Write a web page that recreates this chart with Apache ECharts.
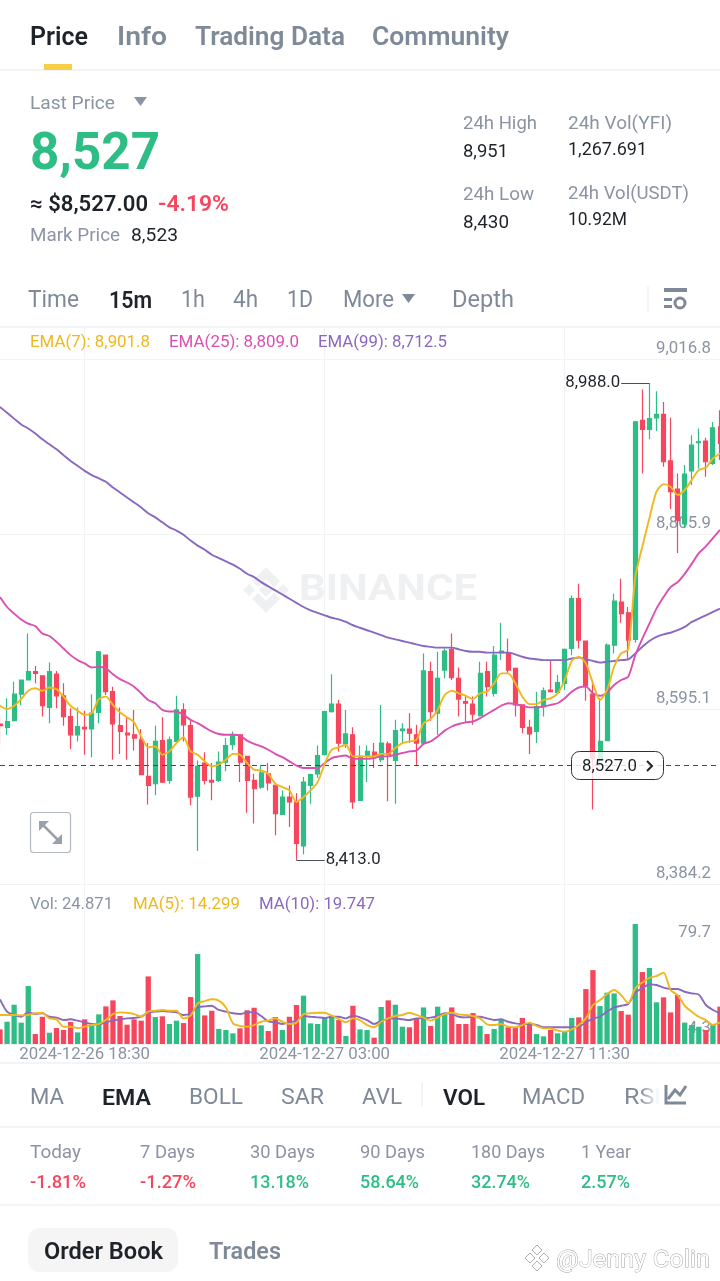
<!DOCTYPE html>
<html><head><meta charset="utf-8">
<style>html,body{margin:0;padding:0;background:#fff}#c{width:720px;height:1281px}</style>
<script src="https://cdn.jsdelivr.net/npm/echarts@6/dist/echarts.min.js"></script>
</head><body><div id="c"></div>
<script>
// [open, close, low, high]
const candles = [
[8577,8575,8552,8586],[8573,8580,8564,8608],[8581,8613,8580,8628],[8613,8630,8600,8630],[8630,8640,8630,8686],
[8640,8638,8626,8647],[8635,8599,8586,8635],[8597,8640,8578,8651],[8637,8611,8596,8641],[8611,8586,8575,8626],
[8586,8564,8547,8596],[8564,8574,8556,8597],[8573,8571,8540,8593],[8571,8590,8537,8613],[8591,8664,8578,8665],
[8660,8616,8612,8660],[8616,8577,8534,8622],[8575,8568,8541,8597],[8566,8564,8534,8585],[8564,8560,8545,8594],
[8558,8516,8516,8571],[8514,8503,8480,8554],[8505,8556,8491,8575],[8557,8507,8506,8585],[8509,8558,8505,8562],
[8556,8594,8556,8611],[8594,8576,8556,8602],[8575,8489,8479,8582],[8490,8526,8424,8533],[8530,8509,8504,8543],
[8509,8507,8485,8530],[8509,8531,8507,8544],[8531,8551,8520,8560],[8552,8563,8546,8568],[8564,8531,8507,8564],
[8538,8509,8470,8538],[8509,8499,8457,8517],[8501,8518,8499,8528],[8517,8506,8497,8530],[8503,8469,8443,8505],
[8468,8489,8468,8497],[8489,8483,8453,8503],[8483,8433,8413,8494],[8430,8507,8420,8513],[8503,8516,8481,8517],
[8517,8539,8512,8551],[8540,8592,8540,8593],[8592,8601,8591,8637],[8601,8554,8544,8606],[8553,8565,8548,8594],
[8564,8483,8475,8573],[8485,8538,8485,8551],[8538,8544,8507,8551],[8543,8538,8524,8554],[8534,8554,8531,8600],
[8553,8540,8484,8556],[8533,8569,8481,8582],[8569,8571,8554,8578],[8571,8566,8554,8590],[8564,8554,8527,8576],
[8554,8641,8554,8662],[8640,8592,8581,8652],[8590,8632,8564,8664],[8642,8665,8632,8668],[8667,8633,8630,8686],
[8632,8607,8586,8645],[8604,8602,8579,8610],[8601,8589,8576,8610],[8587,8638,8586,8652],[8640,8622,8610,8652],
[8614,8660,8610,8671],[8663,8665,8654,8699],[8662,8642,8638,8680],[8644,8600,8586,8644],[8600,8573,8566,8600],
[8573,8565,8541,8582],[8568,8598,8554,8616],[8598,8617,8586,8621],[8618,8616,8616,8653],[8615,8627,8614,8636],
[8626,8667,8618,8668],[8668,8728,8660,8732],[8728,8678,8668,8746],[8677,8623,8605,8677],[8613,8535,8474,8629],
[8534,8556,8525,8608],[8557,8672,8557,8674],[8672,8725,8662,8734],[8724,8710,8699,8752],[8711,8678,8656,8718],
[8679,8941,8675,8942],[8943,8932,8879,8980],[8932,8945,8920,8988],[8946,8950,8930,8978],[8950,8893,8887,8965],
[8894,8857,8836,8946],[8860,8822,8783,8879],[8818,8878,8813,8889],[8882,8913,8865,8925],[8916,8917,8885,8933],
[8918,8893,8875,8922],[8891,8934,8889,8941],[8935,8915,8895,8955]
];
const ema7 = [8599,8595,8599,8607,8617,8620,8617,8621,8619,8610,8599,8593,8588,8590,8607,8610,8600,8591,8585,8579,
8562,8549,8550,8540,8544,8554,8561,8544,8540,8532,8526,8528,8534,8541,8540,
8530,8522,8521,8517,8505,8501,8497,8483,8489,8497,8507,8529,8546,8549,8552,8538,8538,8538,8538,8541,8541,8548,8554,8556,8558,8578,8583,8594,8612,8617,8614,8611,8607,
8614,8616,8626,8638,8638,8626,8610,8601,8601,8606,8608,8614,8630,8653,8658,8650,8626,8606,8618,8646,8662,8667,
8754,8791,8825,8857,8866,8863,8853,8859,8871,8883,8886,8897,8903];
const ema25 = [8730,8718,8710,8703,8698,8695,8686,8683,8676,8668,8660,8654,8650,8645,8646,8644,8637,8631,8627,8622,
8614,8606,8602,8594,8592,8592,8588,8582,8578,8573,8568,8565,8564,8564,8563,
8557,8553,8550,8546,8541,8537,8532,8527,8524,8524,8524,8530,8536,8538,8539,8535,8535,8535,8536,8538,8538,8540,8542,8544,8545,8553,8556,8562,8569,8574,8577,8579,8580,
8584,8589,8594,8599,8602,8601,8599,8597,8597,8598,8600,8602,8608,8616,8621,8622,8614,8611,8615,8624,8630,8634,
8660,8680,8698,8716,8730,8742,8748,8758,8770,8783,8791,8801,8811];
const ema99 = [8959,8952,8945,8938,8933,8927,8920,8914,8908,8901,8894,8888,8882,8877,8873,8869,8862,8856,8850,8844,
8838,8831,8826,8820,8814,8810,8805,8798,8792,8787,8781,8777,8773,8769,8764,
8758,8754,8748,8743,8738,8733,8728,8723,8718,8714,8711,8708,8705,8703,8700,8696,8693,8690,8687,8684,8681,8679,8677,8675,8673,8671,8670,8669,8669,8669,8667,8665,8664,
8664,8663,8663,8663,8663,8661,8658,8656,8655,8654,8654,8654,8654,8656,8657,8655,8653,8651,8652,8653,8654,8655,
8662,8670,8677,8682,8685,8687,8690,8694,8700,8704,8708,8712,8716];
const volumes = [9.7,14.8,26.1,14.2,38.5,6.6,18.1,7.5,10.6,9.3,14.6,7.7,16.4,12.0,19.7,25,29,18.6,12.8,16.4,
15.5,44.9,17.9,18.4,13.3,15.5,13.9,31.2,59.8,19,22.1,10,9.3,7.1,10.4,
22.4,24.1,12.4,8.6,17.9,9.3,18.1,25.9,32.1,13.7,13.3,17.9,18.6,15.9,5.3,25.4,9.7,9.3,4.2,24.6,29,26.1,11.5,11.1,16.6,24.3,12,24.8,20.4,24.3,13.3,13.3,20.6,
12,6.6,10,15.9,11.1,11.1,17.3,13.3,6.6,5.1,9.3,7.1,8.6,17.3,17.7,36.5,49.1,25.2,34.1,33.6,21.9,19.5,
79.7,47.8,50.5,27.7,31,21,32.5,14.2,12.6,11.5,9.3,12.6,24.8];
const volMa5 = [19.3,19.3,19.3,19.0,19.3,20.4,20.8,17.0,16.4,11.5,11.5,10.6,11.5,12.6,13.3,15.9,19.9,21.0,20.8,19.9,
18.1,21.5,22.1,22.6,22.1,22.1,17.0,18.8,27.0,28.5,29.7,28.8,24.3,13.7,12.0,
11.5,12.6,14.8,15.5,17.0,14.8,13.3,14.2,19.9,20.4,20.8,20.8,18.8,16.6,14.4,17.0,15.9,12.6,11.1,14.8,17.0,18.6,19.3,20.8,19.3,17.5,15.5,17.7,19.9,20.8,19.7,19.3,18.6,
17.0,13.1,12.6,13.3,11.5,11.1,12.6,14.2,12.0,10.4,10.4,8.9,8.2,9.7,12.6,17.0,25.9,29.2,33.2,35.9,32.5,27.0,
37.0,40.9,44.0,45.1,47.4,35.9,32.5,25.4,21.5,18.1,15.9,12.6,14.3];
const volMa10 = [29.7,21.5,19.3,18.1,21.0,19.9,20.4,18.1,17.5,15.9,16.4,15.5,14.4,13.3,13.1,14.4,15.5,16.4,17.0,17.3,
18.1,21.0,21.5,21.9,21.5,21.0,19.3,20.4,24.3,25.0,25.4,22.6,21.5,20.4,19.9,
21.0,21.2,18.6,15.0,14.4,13.3,14.2,15.5,18.6,18.1,17.7,17.3,18.1,18.1,17.0,19.0,17.7,15.9,13.3,15.3,16.6,17.0,16.4,15.9,17.0,17.0,17.5,18.6,20.4,19.9,18.1,17.7,18.1,
18.1,17.0,15.9,16.4,14.8,13.7,13.3,13.3,12.6,11.1,11.1,11.1,11.1,11.1,11.5,14.2,17.0,18.1,21.5,24.3,25.4,26.6,
34.1,37.0,39.6,39.2,37.4,36.5,36.5,34.7,33.6,32.8,25.9,22.6,20.4];
const priceTicks = [8384.2, 8595.1, 8805.9, 9016.8];
const priceMin = 8384.2, priceMax = 9055.4;
const volTop = [79.7], volBottom = [4.3];
const volMax = 106.3;
const labelledBars = [12, 46, 80];
const firstBarTime = Date.UTC(2024, 11, 26, 15, 30);
const highMark = { index: 92, value: 8988, label: '8,988.0' };
const lowMark = { index: 42, value: 8413, label: '8,413.0' };
const lastPrice = 8527;
const periods = ['Today', '7 Days', '30 Days', '90 Days', '180 Days', '1 Year'];
const periodChanges = ['-1.81%', '-1.27%', '13.18%', '58.64%', '32.74%', '2.57%'];

const GREEN = '#2EBD85', RED = '#F6465D', GRAY = '#8A94A3', DARK = '#1E2329', SLATE = '#7F8A99';
const YEL = '#EEB81F', MAG = '#DB4FB3', PUR = '#8A68C0', LINE = '#EEF0F2', GRID = '#F2F3F5', WM = '#EFF0F2';
const pad = n => String(n).padStart(2, '0');
const categories = candles.map((_, i) => {
  const d = new Date(firstBarTime + i * 900000);
  return d.getUTCFullYear() + '-' + pad(d.getUTCMonth() + 1) + '-' + pad(d.getUTCDate()) + ' ' + pad(d.getUTCHours()) + ':' + pad(d.getUTCMinutes());
});
const fmt = v => v.toLocaleString('en-US', { minimumFractionDigits: 1, maximumFractionDigits: 1 });

const ctx = document.createElement('canvas').getContext('2d');
function T(text, x, cy, size, fill, weight, width, extra) {
  const font = 'Roboto, sans-serif';
  ctx.font = weight + ' ' + size + 'px ' + font;
  const sx = width ? width / ctx.measureText(text).width : 1;
  return { type: 'text', x, y: cy + Math.max(2, size * 0.08), scaleX: sx, z: 50, silent: true,
    style: Object.assign({ text, fill, fontSize: size, fontWeight: weight, fontFamily: font, align: 'left', verticalAlign: 'middle' }, extra || {}) };
}
const hline = (y, c, w) => ({ type: 'line', z: 1, silent: true, shape: { x1: 0, y1: y, x2: 720, y2: y }, style: { stroke: c || LINE, lineWidth: w || 1.5 } });
const vline = (x, y1, y2) => ({ type: 'line', z: 50, silent: true, shape: { x1: x, y1, x2: x, y2 }, style: { stroke: LINE, lineWidth: 1.5 } });
const tri = (x, y, w, h, c) => ({ type: 'polygon', z: 50, silent: true, shape: { points: [[x, y], [x + w, y], [x + w / 2, y + h]] }, style: { fill: c } });
const poly = (pts, c, w) => ({ type: 'polyline', z: 60, silent: true, shape: { points: pts }, style: { stroke: c, lineWidth: w || 2, fill: null } });
const diamond = (cx, cy, r, c) => ({ type: 'polygon', z: 0, silent: true, shape: { points: [[cx, cy - r], [cx + r, cy], [cx, cy + r], [cx - r, cy]] }, style: { fill: c } });
const chevron = (cx, ty, d, c) => ({ type: 'polygon', z: 0, silent: true, shape: { points: [[cx, ty], [cx + 14, ty + d * 14], [cx + 8, ty + d * 20], [cx, ty + d * 12], [cx - 8, ty + d * 20], [cx - 14, ty + d * 14]] }, style: { fill: c } });

const periodX = [30, 140, 250, 360, 471, 581];
const periodW = [51, 55, 65, 65, 74, 50];
const changeW = [56, 56, 59, 59, 59, 49];

const g = [
  hline(70), hline(327), hline(1063), hline(1127), hline(1205),
  { type: 'rect', z: 50, silent: true, shape: { x: 44, y: 64, width: 28, height: 6 }, style: { fill: '#F7CE46' } },
  T('Price', 30, 36, 26, DARK, 600, 58), T('Info', 117, 36, 26, SLATE, 600, 50),
  T('Trading Data', 195, 36, 26, SLATE, 600, 150), T('Community', 372, 36, 26, SLATE, 600, 137),
  T('Last Price', 30, 102, 19, GRAY, 400, 85), tri(134, 97, 13, 9, GRAY),
  T('8,527', 30, 152, 52, GREEN, 700, 130),
  T('≈ $8,527.00', 30, 203, 22, DARK, 600, 118), T('-4.19%', 158, 203, 22, RED, 600, 71),
  T('Mark Price', 30, 234, 18, GRAY, 400, 90), T('8,523', 131, 234, 18, DARK, 400, 47),
  T('24h High', 463, 122, 19, GRAY, 400, 74), T('8,951', 463, 150, 19, DARK, 400, 45),
  T('24h Low', 463, 193, 19, GRAY, 400, 71), T('8,430', 463, 221, 19, DARK, 400, 46),
  T('24h Vol(YFI)', 568, 122, 19, GRAY, 400, 104), T('1,267.691', 568, 148, 19, DARK, 400, 79),
  T('24h Vol(USDT)', 568, 192, 19, GRAY, 400, 121), T('10.92M', 568, 218, 19, DARK, 400, 59),
  T('Time', 28, 299, 24, SLATE, 400, 51), T('15m', 109, 300, 24, DARK, 600, 43), T('1h', 181, 299, 24, SLATE, 400, 24),
  T('4h', 233, 299, 24, SLATE, 400, 25), T('1D', 287, 299, 24, SLATE, 400, 26), T('More', 343, 299, 24, SLATE, 400, 51),
  tri(402, 294, 13, 9, SLATE), T('Depth', 452, 299, 24, SLATE, 400, 62), vline(648, 286, 311),
  { type: 'rect', z: 50, silent: true, shape: { x: 664, y: 288, width: 23, height: 4 }, style: { fill: SLATE } },
  { type: 'rect', z: 50, silent: true, shape: { x: 664, y: 298, width: 8, height: 3 }, style: { fill: SLATE } },
  { type: 'rect', z: 50, silent: true, shape: { x: 664, y: 305, width: 8, height: 3 }, style: { fill: SLATE } },
  { type: 'circle', z: 50, silent: true, shape: { cx: 680, cy: 303, r: 5 }, style: { fill: '#fff', stroke: SLATE, lineWidth: 3 } },
  T('EMA(7): 8,901.8', 30, 341, 16, YEL, 400, 120), T('EMA(25): 8,809.0', 169, 341, 16, MAG, 400, 130), T('EMA(99): 8,712.5', 318, 341, 16, PUR, 400, 129),
  T('Vol: 24.871', 30, 903, 16, GRAY, 400, 83), T('MA(5): 14.299', 133, 903, 16, YEL, 400, 107), T('MA(10): 19.747', 259, 903, 16, PUR, 400, 116),
  // watermark
  diamond(266, 590, 7, WM), diamond(249, 590, 6, WM), diamond(283, 590, 6, WM),
  chevron(266, 567, 1, WM), chevron(266, 613, -1, WM),
  Object.assign(T('BINANCE', 299, 588, 36, WM, 700, 178), { z: 0 }),
  // expand button
  { type: 'rect', z: 50, silent: true, shape: { x: 30.5, y: 812.5, width: 40, height: 40, r: 3 }, style: { fill: '#fff', stroke: '#B4BAC2', lineWidth: 1.2 } },
  { type: 'polygon', z: 51, silent: true, shape: { points: [[39, 821], [49, 821], [39, 831]] }, style: { fill: '#98A1AC' } },
  { type: 'polygon', z: 51, silent: true, shape: { points: [[62, 844], [52, 844], [62, 834]] }, style: { fill: '#98A1AC' } },
  poly([[43, 825], [58, 840]], '#98A1AC', 2.5),
  // last price pill
  { type: 'rect', z: 40, silent: true, shape: { x: 571.5, y: 751.5, width: 92, height: 28, r: 8 }, style: { fill: 'rgba(255,255,255,0.82)', stroke: '#2B3139', lineWidth: 1 } },
  T('8,527.0', 582, 765, 16.8, DARK, 400, 55), poly([[647, 761], [652, 766], [647, 771]], DARK, 2),
  // indicator row
  T('MA', 30, 1096, 22, SLATE, 400, 34), T('EMA', 102, 1097, 22, DARK, 600, 49), T('BOLL', 189, 1096, 22, SLATE, 400, 54),
  T('SAR', 281, 1096, 22, SLATE, 400, 43), T('AVL', 362, 1096, 22, SLATE, 400, 40), vline(422, 1082, 1106),
  T('VOL', 443, 1097, 22, DARK, 600, 42), T('MACD', 522, 1096, 22, SLATE, 400, 63), T('RSI', 624, 1096, 22, SLATE, 400, 37),
  { type: 'rect', z: 55, silent: true, shape: { x: 640, y: 1082, width: 24, height: 28 },
    style: { fill: { type: 'linear', x: 0, y: 0, x2: 1, y2: 0, colorStops: [{ offset: 0, color: 'rgba(255,255,255,0)' }, { offset: 0.8, color: '#fff' }] } } },
  poly([[666, 1085], [666, 1103], [686, 1103]], SLATE, 3), poly([[668, 1099], [675, 1090], [680, 1095], [686, 1086]], SLATE, 3),
  ...periods.map((p, i) => T(p, periodX[i], 1151, 18, GRAY, 400, periodW[i])),
  ...periodChanges.map((p, i) => T(p, periodX[i], 1181, 18, p[0] === '-' ? RED : GREEN, 500, changeW[i])),
  { type: 'rect', z: 2, silent: true, shape: { x: 28, y: 1228, width: 150, height: 44, r: 12 }, style: { fill: '#F5F5F5' } },
  T('Order Book', 44, 1251, 23, DARK, 600, 119), T('Trades', 209, 1251, 23, SLATE, 600, 72),
  T('@Jenny Colin', 556, 1259, 23, '#fff', 400, 154, { stroke: '#9A9A9A', lineWidth: 0.8 }),
  ...[[537, 1250, 5], [530, 1258, 5], [544, 1258, 5], [537, 1266, 5]].map(d => ({ type: 'polygon', z: 50, silent: true, shape: { points: [[d[0], d[1] - d[2]], [d[0] + d[2], d[1]], [d[0], d[1] + d[2]], [d[0] - d[2], d[1]]] }, style: { fill: '#fff', stroke: '#9A9A9A', lineWidth: 0.8 } }))
];

const lineSeries = (name, data, color, xi, yi, w) => ({ name, type: 'line', data, xAxisIndex: xi, yAxisIndex: yi, showSymbol: false, smooth: 0.25, z: 5, silent: true,
  lineStyle: { color, width: w || 1.9 } });
const peak = (m, dir) => [{ coord: [m.index, m.value], symbol: 'none', lineStyle: { color: '#4A4F57', width: 1, type: 'solid' },
  label: { show: true, formatter: m.label, position: 'end', color: DARK, fontSize: 16.8, fontFamily: 'Roboto', distance: 1 } }, { coord: [m.index + dir * 4, m.value], symbol: 'none' }];

const option = {
  animation: false,
  textStyle: { fontFamily: 'Roboto' },
  graphic: { elements: g },
  grid: [
    { left: 0, top: 327, width: 720, height: 557 },
    { left: 0, top: 884, width: 720, height: 160 }
  ],
  xAxis: [0, 1].map(gi => ({
    type: 'category', gridIndex: gi, data: categories, boundaryGap: false,
    axisLine: { show: gi === 1, lineStyle: { color: LINE, width: 1 } },
    axisTick: { show: false, customValues: labelledBars },
    splitLine: { show: true, lineStyle: { color: GRID, width: 1.2 } },
    axisLabel: gi === 1 ? { show: true, customValues: labelledBars, color: GRAY, fontSize: 16.8, fontFamily: 'Roboto', margin: 2, hideOverlap: false } : { show: false }
  })),
  yAxis: [
    { type: 'value', gridIndex: 0, position: 'right', min: priceMin, max: priceMax,
      axisLine: { show: false }, axisTick: { show: false, customValues: priceTicks },
      splitLine: { show: true, lineStyle: { color: GRID, width: 1.2 } },
      axisLabel: { inside: true, customValues: priceTicks, formatter: fmt, color: GRAY, fontSize: 16.8, fontFamily: 'Roboto', margin: 9, verticalAlign: 'bottom', lineHeight: 20 } },
    { type: 'value', gridIndex: 1, position: 'right', min: 0, max: volMax,
      axisLine: { show: false }, axisTick: { show: false }, splitLine: { show: false },
      axisLabel: { inside: true, customValues: volTop, formatter: v => v.toFixed(1), color: GRAY, fontSize: 16.8, fontFamily: 'Roboto', margin: 9, verticalAlign: 'top' } },
    { type: 'value', gridIndex: 1, position: 'right', min: 0, max: volMax,
      axisLine: { show: false }, axisTick: { show: false }, splitLine: { show: false },
      axisLabel: { inside: true, customValues: volBottom, formatter: v => v.toFixed(1), color: GRAY, fontSize: 16.8, fontFamily: 'Roboto', margin: 9, verticalAlign: 'bottom' } }
  ],
  series: [
    { name: 'Price', type: 'candlestick', data: candles, xAxisIndex: 0, yAxisIndex: 0, barWidth: 4.5, z: 3, silent: true,
      itemStyle: { color: GREEN, color0: RED, borderColor: GREEN, borderColor0: RED, borderWidth: 1.2 },
      markLine: { silent: true, animation: false, symbol: 'none',
        data: [
          [{ coord: [0, lastPrice], symbol: 'none', lineStyle: { color: '#444B54', width: 1, type: [5, 4] }, label: { show: false } }, { coord: [102, lastPrice], symbol: 'none' }],
          peak(highMark, -1), peak(lowMark, 1)
        ] } },
    lineSeries('EMA(99)', ema99, PUR, 0, 0),
    lineSeries('EMA(25)', ema25, MAG, 0, 0),
    lineSeries('EMA(7)', ema7, YEL, 0, 0),
    { name: 'Vol', type: 'bar', data: volumes, xAxisIndex: 1, yAxisIndex: 1, barWidth: 5.3, z: 3, silent: true,
      itemStyle: { color: p => candles[p.dataIndex][1] >= candles[p.dataIndex][0] ? GREEN : RED } },
    lineSeries('MA(10)', volMa10, PUR, 1, 1),
    lineSeries('MA(5)', volMa5, YEL, 1, 1)
  ]
};
const chart = echarts.init(document.getElementById('c'), null, { renderer: 'canvas', width: 720, height: 1281 });
chart.setOption(option);
</script></body></html>
